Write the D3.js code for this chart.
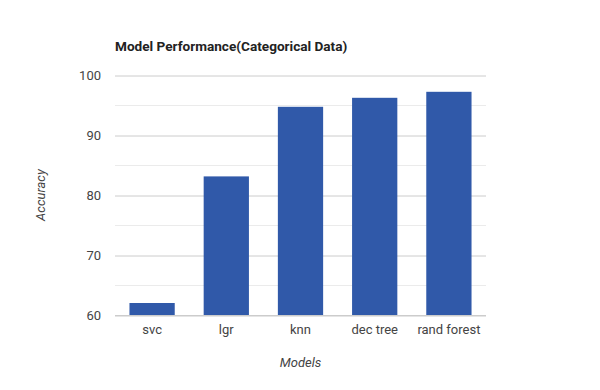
<!DOCTYPE html>
<html>
<head>
<meta charset="utf-8">
<script src="https://cdn.jsdelivr.net/npm/d3@7"></script>
<style>
  body { margin: 0; background: #fff; }
  text { font-family: Roboto, Arial, sans-serif; }
</style>
</head>
<body>
<svg id="chart"></svg>
<script>
// chart data
var models = ['svc', 'lgr', 'knn', 'dec tree', 'rand forest'];
var accuracy = [62, 83.1, 94.7, 96.2, 97.2];
var majorTicks = [60, 70, 80, 90, 100];
var minorTicks = [65, 75, 85, 95];

(function () {
    var width = 600, height = 390;
    var left = 115, right = 486, top = 75, bottom = 315;

    var svg = d3.select('#chart')
        .attr('width', width)
        .attr('height', height);

    var x = d3.scaleBand()
        .domain(models)
        .range([left, right])
        .paddingInner(0.39)
        .paddingOuter(0.195);

    var y = d3.scaleLinear()
        .domain([60, 100])
        .range([bottom, top]);

    // minor gridlines
    svg.append('g').selectAll('line')
        .data(minorTicks)
        .enter().append('line')
            .attr('x1', left).attr('x2', right)
            .attr('y1', function (d) { return Math.round(y(d)) + 0.5; })
            .attr('y2', function (d) { return Math.round(y(d)) + 0.5; })
            .attr('stroke', '#ebebeb');

    // major gridlines + labels
    var yAxis = svg.append('g')
        .attr('transform', 'translate(' + left + ',0)')
        .call(d3.axisLeft(y).tickValues(majorTicks).tickSize(-(right - left)).tickPadding(14));
    yAxis.select('.domain').remove();
    yAxis.selectAll('line').attr('stroke', '#cccccc')
        .attr('transform', 'translate(0,0.5)');
    yAxis.selectAll('text')
        .attr('fill', '#444')
        .style('font-size', '13px')
        .style('font-family', 'Roboto, Arial, sans-serif');

    // bars
    svg.append('g').selectAll('rect')
        .data(accuracy)
        .enter().append('rect')
            .attr('x', function (d, i) { return x(models[i]); })
            .attr('y', function (d) { return y(d); })
            .attr('width', x.bandwidth())
            .attr('height', function (d) { return y(60) - y(d); })
            .attr('fill', '#3059a9');

    // baseline drawn over bars
    svg.append('line')
        .attr('x1', left).attr('x2', right)
        .attr('y1', bottom + 0.5).attr('y2', bottom + 0.5)
        .attr('stroke', '#cccccc');

    // category labels
    var xAxis = svg.append('g')
        .attr('transform', 'translate(0,' + bottom + ')')
        .call(d3.axisBottom(x).tickSize(0).tickPadding(10));
    xAxis.select('.domain').remove();
    xAxis.selectAll('text')
        .attr('fill', '#444')
        .style('font-size', '13px')
        .style('font-family', 'Roboto, Arial, sans-serif');

    // title
    svg.append('text')
        .attr('x', left)
        .attr('y', 51)
        .attr('fill', '#222')
        .style('font-size', '13.6px')
        .style('font-weight', 'bold')
        .text('Model Performance(Categorical Data)');

    // axis titles
    svg.append('text')
        .attr('transform', 'translate(45,' + (top + bottom) / 2 + ') rotate(-90)')
        .attr('text-anchor', 'middle')
        .attr('fill', '#444')
        .style('font-size', '13px')
        .style('font-style', 'italic')
        .text('Accuracy');

    svg.append('text')
        .attr('x', (left + right) / 2)
        .attr('y', 367)
        .attr('text-anchor', 'middle')
        .attr('fill', '#444')
        .style('font-size', '13px')
        .style('font-style', 'italic')
        .text('Models');
}());
</script>
</body>
</html>
